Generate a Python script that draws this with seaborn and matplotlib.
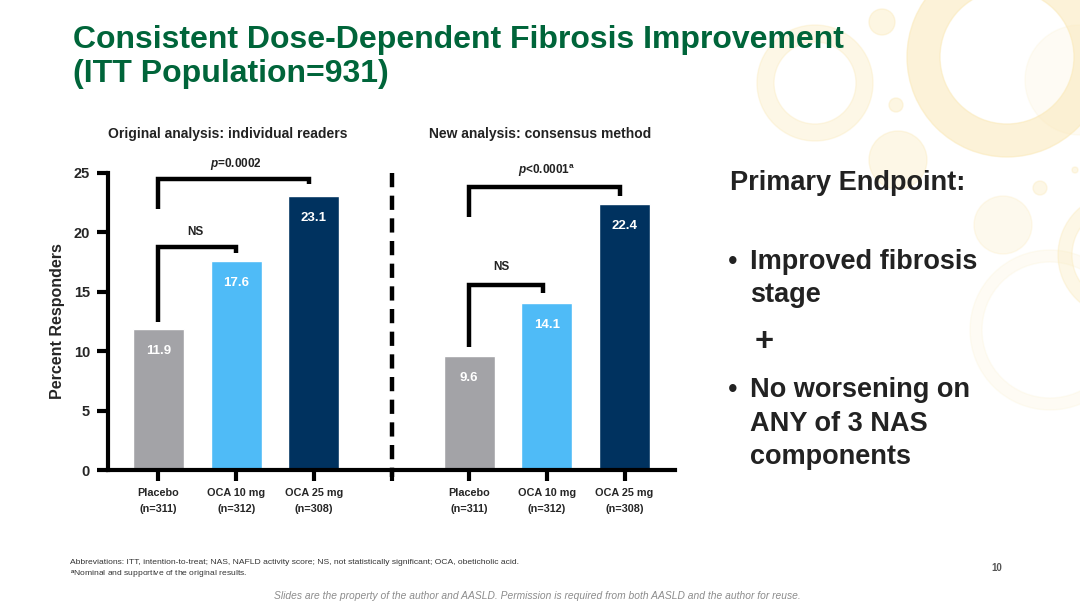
import matplotlib
matplotlib.use("Agg")
import matplotlib.pyplot as plt
from matplotlib.patches import Wedge, Circle
import seaborn as sns
import pandas as pd

# datos del grafico
arms = ["Placebo", "OCA 10 mg", "OCA 25 mg"]
n_labels = ["(n=311)", "(n=312)", "(n=308)"]
original = [11.9, 17.6, 23.1]
consensus = [9.6, 14.1, 22.4]
group_titles = ["Original analysis: individual readers", "New analysis: consensus method"]
yticks = [0, 5, 10, 15, 20, 25]
p_labels = [r"$\mathit{p}$=0.0002", r"$\mathit{p}$<0.0001$^{\mathrm{a}}$"]

colors = {"Placebo": "#A3A3A7", "OCA 10 mg": "#4FBBF7", "OCA 25 mg": "#00325F"}
green = "#00653A"
dark = "#222222"

df = pd.DataFrame({
    "pos": [0, 1, 2, 4, 5, 6],
    "arm": arms * 2,
    "value": original + consensus,
})

sns.set_theme(style="white")
plt.rcParams["font.family"] = ["Liberation Sans", "DejaVu Sans"]
plt.rcParams["mathtext.fontset"] = "custom"
plt.rcParams["mathtext.rm"] = "Liberation Sans:bold"
plt.rcParams["mathtext.it"] = "Liberation Sans:italic:bold"

fig = plt.figure(figsize=(10.8, 6.09), dpi=100)
fig.patch.set_facecolor("white")

# decoracion de fondo (circulos amarillos)
ring_col = "#FBE9B8"
def px(x, y):
    return (x / 100, (609 - y) / 100)

deco = [
    Wedge(px(1007, 57), 1.00, 0, 360, width=0.33, color=ring_col, alpha=0.55),
    Wedge(px(815, 83), 0.58, 0, 360, width=0.17, color=ring_col, alpha=0.35),
    Wedge(px(1120, 255), 0.62, 0, 360, width=0.14, color=ring_col, alpha=0.35),
    Wedge(px(1050, 330), 0.80, 0, 360, width=0.12, color=ring_col, alpha=0.15),
    Circle(px(882, 22), 0.13, color=ring_col, alpha=0.4),
    Circle(px(896, 105), 0.07, color=ring_col, alpha=0.4),
    Circle(px(898, 160), 0.29, color=ring_col, alpha=0.35),
    Circle(px(1003, 225), 0.29, color=ring_col, alpha=0.25),
    Circle(px(1040, 188), 0.07, color=ring_col, alpha=0.35),
    Circle(px(1075, 170), 0.03, color=ring_col, alpha=0.35),
    Circle(px(1080, 80), 0.55, color=ring_col, alpha=0.15),
]
for p in deco:
    p.set_transform(fig.dpi_scale_trans)
    p.set_zorder(0)
    fig.patches.append(p)

ax = fig.add_axes([0.1, 0.228, 0.525, 0.488])
ax.set_facecolor("none")

sns.barplot(
    data=df, x="pos", y="value", hue="arm", palette=colors,
    native_scale=True, dodge=False, width=0.66, legend=False,
    saturation=1, ax=ax, zorder=2,
)

for x, v in zip(df["pos"], df["value"]):
    ax.text(x, v - 1.85, f"{v:.1f}", color="white", fontsize=9.5,
            fontweight="bold", ha="center", va="center", zorder=3)

# linea discontinua entre analisis (de arriba hacia abajo)
ax.plot([3, 3], [25, -0.6], color="black", lw=3.2, ls=(0, (3.2, 1.9)),
        clip_on=False, zorder=3)

# corchetes de significancia
brackets = [
    (0, 1.94, 22.0, 24.45, 24.1, p_labels[0], 1.0, 25.1),
    (0, 1.0, 12.5, 18.8, 18.3, "NS", 0.48, 19.5),
    (4, 5.94, 21.3, 23.8, 23.1, p_labels[1], 5.0, 24.5),
    (4, 4.95, 10.4, 15.55, 14.9, "NS", 4.42, 16.6),
]
for x0, x1, yl, yt, yr, lab, lx, ly in brackets:
    ax.plot([x0, x0, x1, x1], [yl, yt, yt, yr], color="black", lw=3.2,
            solid_joinstyle="miter", solid_capstyle="butt", clip_on=False)
    ax.text(lx, ly, lab, fontsize=8.5, fontweight="bold", ha="center",
            va="bottom", color=dark)

ax.set_xlim(-0.65, 6.65)
ax.set_ylim(0, 25)
ax.set_yticks(yticks)
ax.set_yticklabels([str(t) for t in yticks], fontsize=10.5, fontweight="bold")
ax.set_xticks(range(7))
tick_text = [f"{a}\n{n}" for a, n in zip(arms, n_labels)]
ax.set_xticklabels(tick_text + [""] + tick_text, fontsize=7.8,
                   fontweight="bold", linespacing=1.7)
ax.tick_params(axis="both", direction="out", length=8, width=3,
               color="black", pad=5, bottom=True, left=True)
ax.set_xlabel("")
ax.set_ylabel("Percent Responders", fontsize=11.5, fontweight="bold",
              labelpad=6)
sns.despine(ax=ax)
for s in ["left", "bottom"]:
    ax.spines[s].set_linewidth(3)
    ax.spines[s].set_color("black")

fig.text(228 / 1080, 1 - 134 / 609, group_titles[0], fontsize=10,
         fontweight="bold", ha="center", va="center", color=dark)
fig.text(540 / 1080, 1 - 134 / 609, group_titles[1], fontsize=10,
         fontweight="bold", ha="center", va="center", color=dark)

# titulo
fig.text(73 / 1080, 1 - 40 / 609, "Consistent Dose-Dependent Fibrosis Improvement",
         fontsize=23, fontweight="bold", color=green, va="center", ha="left")
fig.text(73 / 1080, 1 - 74 / 609, "(ITT Population=931)",
         fontsize=23, fontweight="bold", color=green, va="center", ha="left")

# texto lateral
fs = 19.5
fig.text(730 / 1080, 1 - 183 / 609, "Primary Endpoint:", fontsize=fs,
         fontweight="bold", color=dark, va="center")
fig.text(728 / 1080, 1 - 262 / 609, "•", fontsize=fs, color=dark, va="center")
fig.text(750 / 1080, 1 - 262 / 609, "Improved fibrosis", fontsize=fs,
         fontweight="bold", color=dark, va="center")
fig.text(750 / 1080, 1 - 295 / 609, "stage", fontsize=fs,
         fontweight="bold", color=dark, va="center")
fig.text(764 / 1080, 1 - 343 / 609, "+", fontsize=fs + 4,
         fontweight="bold", color=dark, va="center", ha="center")
fig.text(728 / 1080, 1 - 390 / 609, "•", fontsize=fs, color=dark, va="center")
fig.text(750 / 1080, 1 - 390 / 609, "No worsening on", fontsize=fs,
         fontweight="bold", color=dark, va="center")
fig.text(750 / 1080, 1 - 424 / 609, "ANY of 3 NAS", fontsize=fs,
         fontweight="bold", color=dark, va="center")
fig.text(750 / 1080, 1 - 457 / 609, "components", fontsize=fs,
         fontweight="bold", color=dark, va="center")

# notas al pie
fig.text(70 / 1080, 1 - 563 / 609,
         "Abbreviations: ITT, intention-to-treat; NAS, NAFLD activity score; "
         "NS, not statistically significant; OCA, obeticholic acid.",
         fontsize=6.1, color="#333333", va="center")
fig.text(70 / 1080, 1 - 575 / 609,
         r"$^{\mathrm{a}}$Nominal and supportive of the original results.",
         fontsize=6.1, color="#333333", va="center")
fig.text(997 / 1080, 1 - 568 / 609, "10", fontsize=7, fontweight="bold",
         color="#555555", va="center", ha="center")
fig.text(537 / 1080, 1 - 596 / 609,
         "Slides are the property of the author and AASLD. Permission is "
         "required from both AASLD and the author for reuse.",
         fontsize=7.4, style="italic", color="#8C8C8C", va="center", ha="center")

fig.savefig("out.png", dpi=100, facecolor="white")
